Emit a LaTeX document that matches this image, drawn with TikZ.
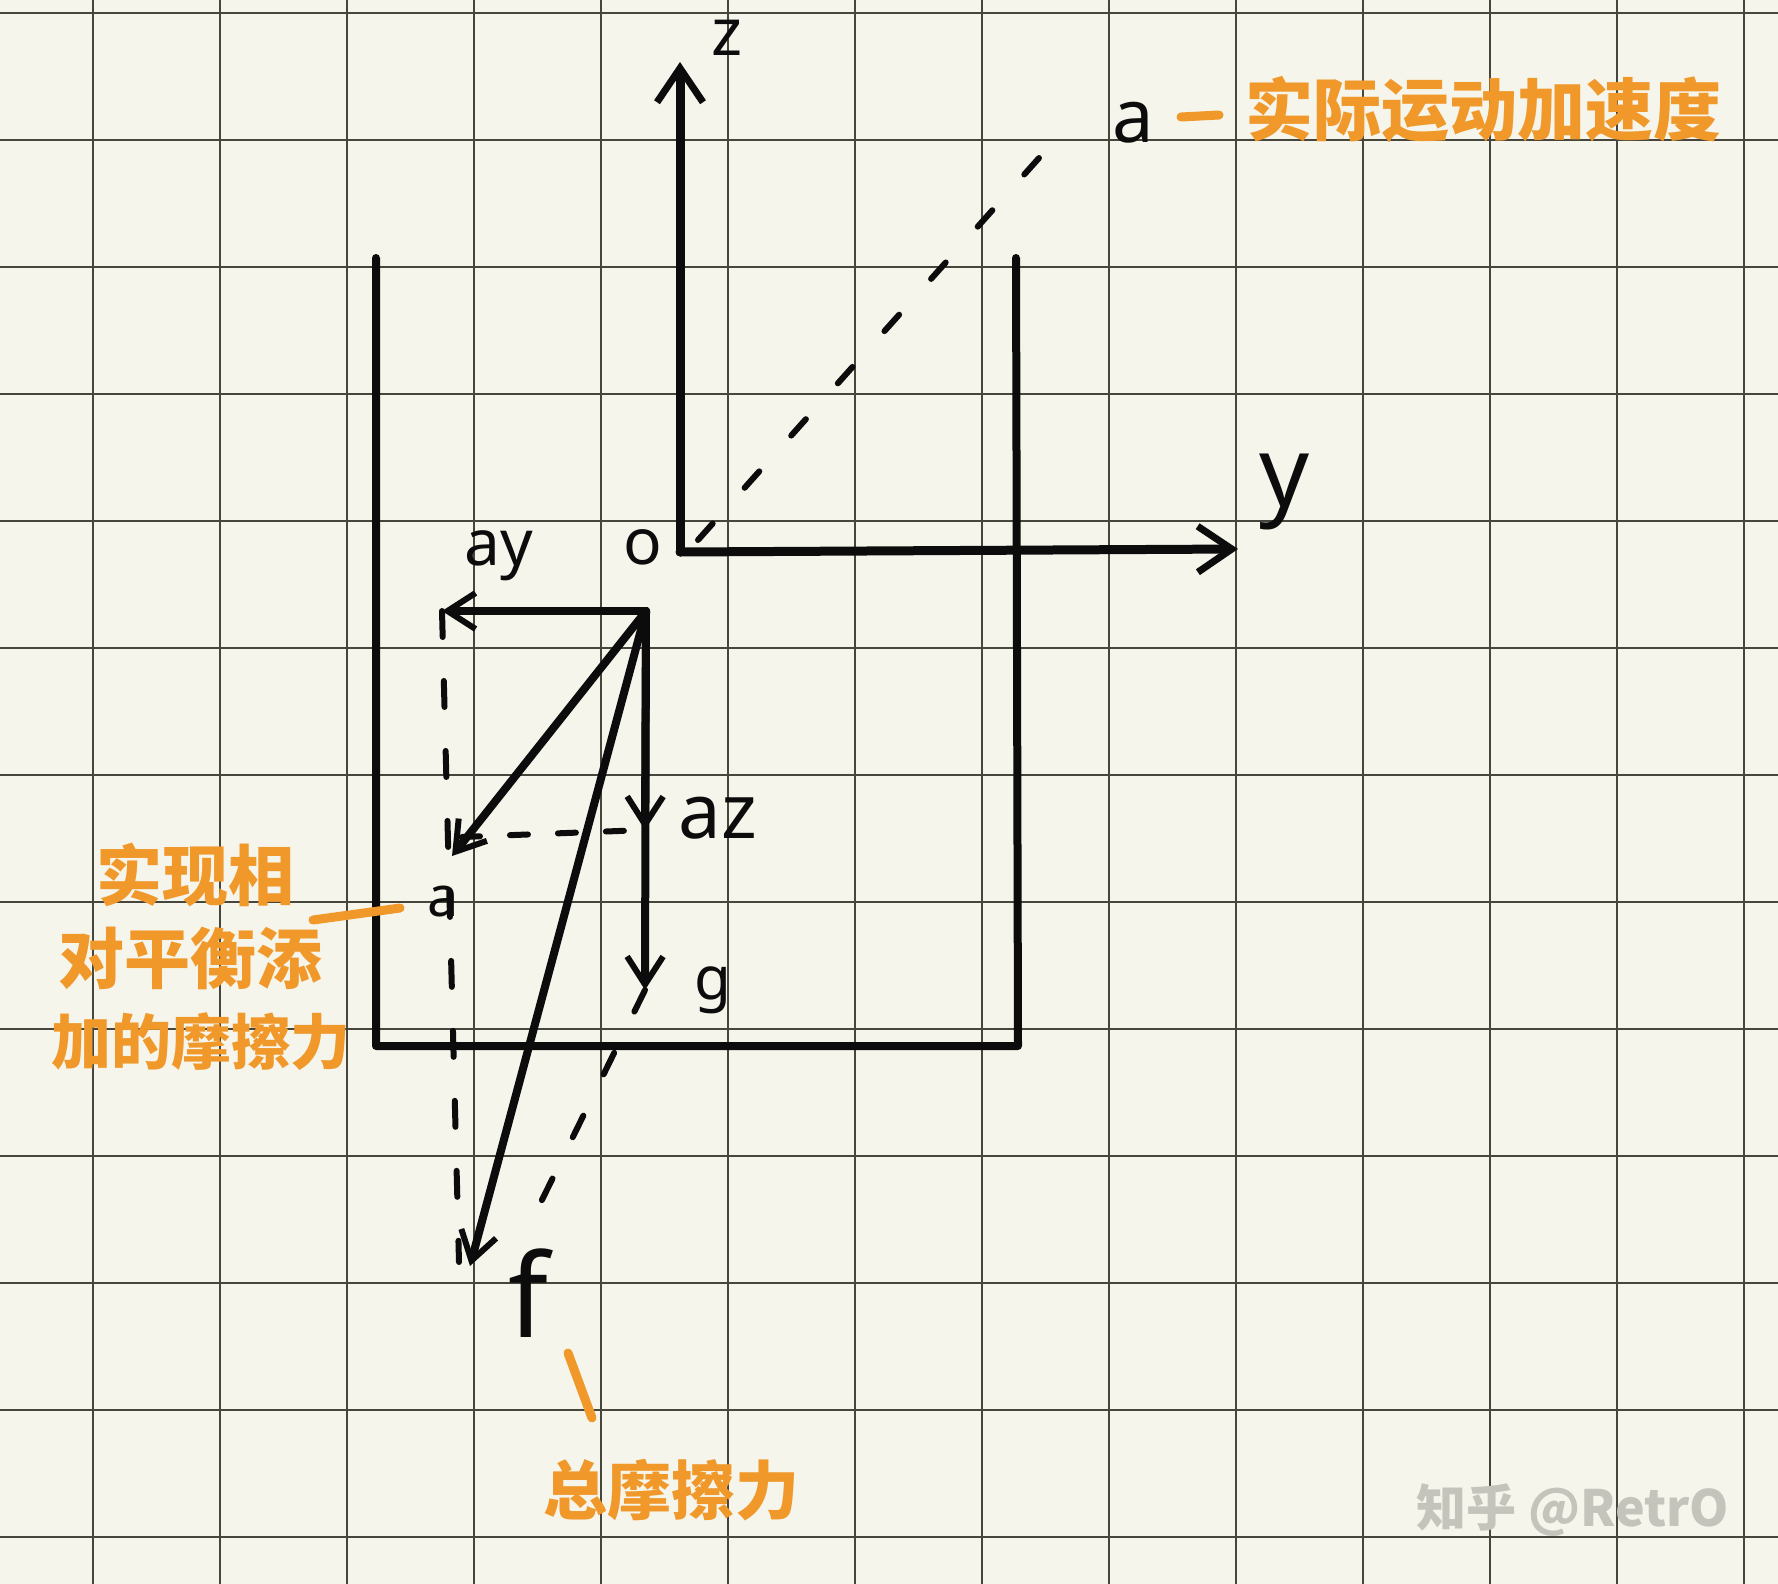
\documentclass[tikz,border=0pt]{standalone}
\usepackage{fontspec}
\setmainfont{Noto Sans}
\newfontfamily\cjk{Noto Sans CJK SC}
\usetikzlibrary{arrows.meta}
\definecolor{paper}{RGB}{245,245,235}
\definecolor{gridline}{RGB}{70,70,60}
\definecolor{ink}{RGB}{12,12,12}
\definecolor{marker}{RGB}{240,152,42}
\definecolor{shade}{RGB}{196,196,188}
\begin{document}
\begin{tikzpicture}
[x=1pt,y=-1pt,
 inkdecorate/.style={draw=ink,line width=8pt,line cap=round,line join=round},
 axisdecorate/.style={inkdecorate,line width=9pt,-{Straight Barb[length=34pt,width=46pt,line width=7pt]}},
 vecdecorate/.style={inkdecorate,-{Straight Barb[length=28pt,width=36pt,line width=6pt]}},
 dashdecorate/.style={draw=ink,line width=6pt,line cap=round,dash pattern=on 22pt off 48pt},
 markdecorate/.style={draw=marker,line width=9pt,line cap=round},
 labeldecorate/.style={text=ink,inner sep=0pt},
 notedecorate/.style={text=marker,inner sep=0pt}]
%% paper and grid
\useasboundingbox (0,0) rectangle (1778,1584);
\fill[paper] (0,0) rectangle (1778,1584);
\foreach \k in {0,...,13}
  \draw[gridline,line width=2pt] ({93.3+127*\k},0) -- ({93.3+127*\k},1584);
\foreach \k in {0,...,12}
  \draw[gridline,line width=2pt] (0,{13.3+127*\k}) -- (1778,{13.3+127*\k});
%% points
\foreach \ptname/\x/\y in {O/680/552, Ztip/680/62, Ytip/1238/549, Start/698/540,
 Aend/1064/130, P/646/611, Aytip/442/611, Aztip/645/830, Gtip/645/990,
 Atip/452/856, Ftip/470/1266, Ayfoot/459/1262, Adash/462/837, Ffoot/540/1204,
 LT/376/258, LB/376/1046, RB/1018/1046, RT/1016/258,
 TopL/1181/117, TopR/1219/115, LeftL/313/920, LeftR/400/908,
 BotT/568/1353, BotB/592/1418}
{
  \coordinate (\ptname) at (\x,\y);
}
%% container
\draw[inkdecorate] (LT) -- (LB) -- (RB) -- (RT);
%% axes
\draw[axisdecorate] (O) -- (Ztip);
\draw[axisdecorate] (O) -- (Ytip);
%% dashed guides
\draw[dashdecorate] (Start) -- (Aend);
\draw[dashdecorate,dash pattern=on 18pt off 30pt] (Adash) -- (Aztip);
\draw[dashdecorate,dash pattern=on 26pt off 44pt] (Aytip) -- (Ayfoot);
\draw[dashdecorate,dash pattern=on 24pt off 46pt] (Gtip) -- (Ffoot);
%% vectors
\path
\foreach \startnode/\endnode in {P/Aytip, P/Aztip, P/Gtip, P/Atip, P/Ftip}
{
  (\startnode) edge[vecdecorate] (\endnode)
};
%% labels
\foreach \lname/\x/\y/\size/\txt in {zlab/727/38/66/z, ylab/1284/492/98/y,
 olab/643/547/64/o, aylab/499/556/64/ay, azlab/718/818/76/az, glab/713/990/60/g,
 alab/443/902/56/a, flab/528/1293/116/f, atoplab/1133/123/74/a}
{
  \node[labeldecorate,font=\bfseries\fontsize{\size}{\size}\selectfont] (\lname) at (\x,\y) {\txt};
}
%% notes
\foreach \nname/\x/\y/\size/\txt in {atopnote/1483/110/68/实际运动加速度,
 leftnoteA/195/875/66/实现相, leftnoteB/190/958/66/对平衡添,
 leftnoteC/201/1042/60/加的摩擦力, botnote/671/1490/64/总摩擦力}
{
  \node[notedecorate,font=\cjk\bfseries\fontsize{\size}{\size}\selectfont] (\nname) at (\x,\y) {\txt};
}
\draw[markdecorate] (TopL) -- (TopR);
\draw[markdecorate] (LeftL) -- (LeftR);
\draw[markdecorate] (BotT) -- (BotB);
%% watermark
\node[text=shade,font=\cjk\bfseries\fontsize{50}{50}\selectfont] (mark) at (1573,1510) {知乎 @RetrO};
\end{tikzpicture}
\end{document}
